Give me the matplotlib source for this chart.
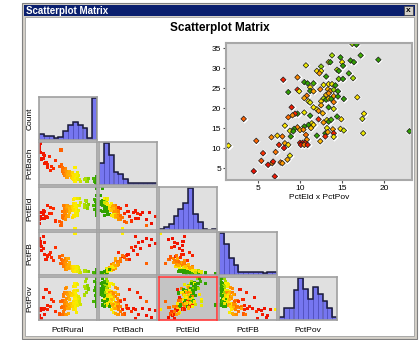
import numpy as np
import matplotlib
matplotlib.use("Agg")
import matplotlib.pyplot as plt
from matplotlib.patches import Rectangle
from matplotlib.colors import LinearSegmentedColormap

plt.rcParams['font.family'] = ['Liberation Sans', 'DejaVu Sans']

# ---- data: one entry per county ----
pct_eld = [16.2, 16.7, 19.3, 17.2, 13.8, 14.8, 13.4, 13.6, 15.0, 16.0,
           16.4, 15.1, 10.7, 12.5, 12.0, 12.5, 12.3, 14.4, 14.6, 15.8,
           13.1, 8.0, 9.7, 14.6, 15.1, 16.3, 10.5, 10.9, 11.6, 12.8,
           13.4, 13.8, 14.2, 11.2, 9.7, 9.9, 8.6, 11.2, 11.6, 12.4,
           13.3, 13.6, 14.0, 14.5, 10.8, 10.5, 13.1, 13.4, 14.0, 14.5,
           15.2, 16.8, 12.8, 13.1, 13.4, 13.7, 11.0, 11.2, 12.5, 14.0,
           12.5, 9.0, 12.0, 12.2, 13.4, 14.0, 11.6, 9.7, 9.4, 9.1,
           8.6, 10.5, 11.2, 12.7, 14.4, 17.6, 17.4, 14.9, 3.3, 13.2,
           13.4, 13.7, 12.2, 12.8, 11.4, 11.6, 11.0, 10.5, 9.7, 9.3,
           8.8, 10.0, 10.4, 11.3, 8.2, 9.2, 13.2, 13.9, 14.8, 15.2,
           13.0, 13.3, 14.0, 14.0, 17.5, 23.0, 10.7, 12.0, 13.0, 10.8,
           12.4, 7.3, 6.6, 7.9, 8.9, 4.8, 1.5, 10.0, 10.3, 10.6,
           10.1, 10.5, 10.9, 7.5, 8.2, 8.6, 8.1, 7.1, 8.8, 5.6,
           5.4, 6.2, 6.7, 6.8, 7.7, 7.9, 8.5, 4.5, 7.0]

pct_pov = [36.1, 35.9, 32.1, 33.2, 33.2, 32.7, 31.5, 31.5, 31.5, 31.9,
           31.5, 30.6, 30.7, 30.4, 29.3, 29.3, 28.7, 29.6, 29.3, 28.7,
           27.9, 27.1, 27.7, 27.3, 27.3, 27.5, 26.5, 26.2, 26.2, 25.8,
           26.0, 26.0, 25.7, 25.2, 24.6, 24.2, 24.0, 24.3, 24.2, 24.7,
           24.7, 24.3, 24.6, 24.2, 23.1, 22.5, 23.3, 23.7, 23.0, 22.9,
           22.3, 22.7, 22.4, 22.1, 22.4, 22.3, 21.7, 21.4, 21.7, 21.5,
           20.7, 20.2, 19.7, 19.3, 20.2, 19.8, 20.2, 18.6, 18.6, 18.2,
           17.7, 18.9, 18.1, 18.7, 17.9, 18.6, 17.3, 17.2, 17.3, 17.0,
           16.6, 17.1, 17.2, 16.4, 16.2, 15.8, 15.8, 15.4, 15.2, 14.8,
           14.3, 14.5, 14.6, 15.0, 15.6, 14.2, 15.0, 14.7, 14.8, 14.4,
           13.7, 14.0, 13.7, 12.8, 13.7, 14.2, 13.3, 13.1, 12.9, 12.1,
           11.7, 13.1, 12.7, 12.9, 12.9, 11.8, 10.6, 11.3, 11.3, 11.3,
           10.8, 10.8, 10.8, 10.8, 11.2, 10.8, 10.0, 9.0, 8.1, 8.7,
           6.8, 5.8, 6.2, 6.6, 6.4, 6.2, 7.1, 4.2, 2.9]

pct_rural = [82, 100, 100, 96, 80, 100, 64, 100, 62, 100,
             100, 100, 66, 84, 60, 63, 48, 78, 100, 97,
             100, 12, 45, 86, 100, 80, 100, 100, 95, 65,
             61, 67, 100, 59, 18, 63, 100, 100, 50, 44,
             52, 47, 82, 100, 42, 50, 54, 46, 49, 100,
             100, 60, 79, 100, 56, 98, 64, 68, 58, 43,
             51, 8, 62, 47, 100, 69, 61, 100, 22, 45,
             40, 66, 100, 53, 100, 62, 70, 60, 38, 65,
             100, 94, 25, 48, 63, 59, 100, 100, 44, 100,
             67, 52, 46, 55, 61, 100, 64, 49, 60, 72,
             100, 50, 15, 63, 66, 100, 41, 100, 20, 47,
             53, 58, 45, 42, 100, 39, 62, 5, 2, 10,
             0, 44, 7, 14, 50, 60, 3, 42, 64, 28,
             36, 1, 46, 9, 41, 48, 51, 0, 4]

pct_bach = [11, 9, 8, 10, 12, 9, 13, 10, 14, 8,
            9, 11, 15, 10, 12, 13, 16, 11, 9, 10,
            10, 24, 17, 12, 8, 11, 9, 10, 11, 12,
            13, 11, 9, 14, 28, 12, 10, 8, 15, 14,
            16, 13, 10, 9, 18, 17, 14, 15, 13, 8,
            9, 12, 11, 10, 13, 9, 13, 14, 12, 16,
            15, 30, 13, 17, 10, 11, 14, 12, 21, 18,
            19, 15, 11, 14, 9, 10, 11, 12, 33, 13,
            10, 12, 19, 16, 14, 13, 11, 12, 18, 13,
            16, 17, 15, 14, 15, 12, 12, 15, 11, 10,
            11, 14, 22, 13, 12, 9, 17, 10, 18, 16,
            15, 16, 19, 17, 13, 22, 20, 26, 31, 23,
            35, 18, 27, 20, 16, 14, 38, 19, 15, 25,
            21, 33, 18, 29, 20, 17, 16, 36, 27]

pct_fb = [1.2, 0.4, 0.6, 0.3, 1.5, 0.5, 2.0, 0.8, 1.6, 0.4,
          0.7, 0.5, 2.4, 1.0, 2.2, 1.8, 3.0, 1.3, 0.6, 0.9,
          0.5, 5.5, 3.4, 1.1, 0.4, 1.4, 0.8, 1.0, 0.6, 1.7,
          1.5, 2.1, 0.5, 2.6, 7.2, 1.9, 1.2, 0.7, 2.8, 3.5,
          2.4, 2.0, 1.1, 0.6, 4.1, 3.8, 2.2, 1.9, 2.6, 0.4,
          0.3, 1.2, 1.3, 0.8, 2.3, 0.5, 2.0, 2.7, 1.6, 2.9,
          3.1, 9.4, 1.8, 3.3, 0.7, 1.4, 2.2, 1.5, 6.3, 4.4,
          4.8, 2.5, 1.1, 2.7, 0.6, 1.0, 0.9, 1.3, 4.0, 1.7,
          0.5, 0.9, 5.0, 2.5, 2.3, 2.0, 1.4, 1.2, 3.6, 1.6,
          2.8, 4.3, 3.9, 3.0, 2.9, 1.3, 1.4, 2.6, 1.1, 0.9,
          0.8, 2.4, 6.8, 1.5, 1.2, 0.4, 4.6, 1.0, 8.1, 5.2,
          3.7, 2.9, 6.0, 4.9, 1.7, 5.6, 15.0, 8.8, 12.1, 7.4,
          10.5, 4.2, 13.8, 6.6, 5.8, 3.1, 11.2, 5.1, 2.7, 9.9,
          6.4, 13.0, 4.5, 11.6, 7.0, 3.8, 3.4, 12.6, 10.2]

# histogram counts on the diagonal (12 bins each)
rural_counts = [6, 4, 4, 2, 3, 10, 16, 19, 16, 13, 2, 45]
bach_counts = [23, 43, 31, 13, 11, 6, 2, 2, 2, 2, 2, 2]
eld_counts = [1, 3, 6, 14, 21, 27, 42, 16, 8, 1, 0, 1]
fb_counts = [48, 36, 19, 12, 4, 3, 3, 3, 3, 2, 3, 3]
pov_counts = [2, 7, 7, 17, 24, 18, 12, 19, 15, 11, 7, 2]

var_names = ['PctRural', 'PctBach', 'PctEld', 'PctFB', 'PctPov']
row_labels = ['Count', 'PctBach', 'PctEld', 'PctFB', 'PctPov']
columns = [pct_rural, pct_bach, pct_eld, pct_fb, pct_pov]
hist_counts = [rural_counts, bach_counts, eld_counts, fb_counts, pov_counts]

cmap = LinearSegmentedColormap.from_list('rural', [
    (0.0, '#ee1000'), (0.3, '#ff3300'), (0.45, '#ff8800'),
    (0.62, '#ffee00'), (0.8, '#aadd00'), (0.95, '#44b400'), (1.0, '#30a000')])
colors = cmap(np.array(pct_rural) / 100.0)

W, H = 420, 340


def box(l, t, w, h):
    return [l / W, 1 - (t + h) / H, w / W, h / H]


def rect(l, t, w, h, **kw):
    r = Rectangle((l / W, 1 - (t + h) / H), w / W, h / H,
                  transform=fig.transFigure, zorder=-10, **kw)
    fig.add_artist(r)


def style(ax, face, edge, lw=1.2):
    ax.set_facecolor(face)
    for s in ax.spines.values():
        s.set_color(edge)
        s.set_linewidth(lw)


fig = plt.figure(figsize=(4.2, 3.4), dpi=100)

# window chrome
rect(22, 3, 395, 336, facecolor='#d4d0c8', edgecolor='#808080', linewidth=0.8)
rect(24, 5, 391, 11, facecolor='#0a1f6e', edgecolor='none')
rect(25, 17, 389, 319, facecolor='white', edgecolor='#a0a0a0', linewidth=0.6)
rect(404, 6, 9, 9, facecolor='#d4d0c8', edgecolor='#404040', linewidth=0.5)
fig.text(26 / W, 1 - 10.5 / H, 'Scatterplot Matrix', color='white',
         fontsize=7, fontweight='bold', ha='left', va='center')
fig.text(408.5 / W, 1 - 10.5 / H, 'x', color='black',
         fontsize=6, fontweight='bold', ha='center', va='center')

fig.text(220 / W, 1 - 28 / H, 'Scatterplot Matrix', fontsize=8.5,
         fontweight='bold', ha='center', va='center')

# axis limits from the data
lims = []
for col in columns:
    lo, hi = min(col), max(col)
    pad = 0.03 * (hi - lo)
    lims.append((lo - pad, hi + pad))
lims[0] = (0, 100)

# matrix cells
for i in range(5):
    for j in range(i + 1):
        ax = fig.add_axes(box(39 + 60 * j, 97 + 45 * i, 58, 43))
        ax.set_xticks([])
        ax.set_yticks([])
        if i == j:
            style(ax, '#e0e0e0', '#a0a0a0')
            edges = np.linspace(lims[j][0], lims[j][1], len(hist_counts[j]) + 1)
            ax.bar(edges[:-1], hist_counts[j], width=np.diff(edges), align='edge',
                   color='#7676f0', edgecolor='#4a4ab8', linewidth=0.5)
            ax.stairs(hist_counts[j], edges, color='#1c1c3c', linewidth=1.1)
            ax.set_xlim(lims[j])
            ax.set_ylim(0, max(hist_counts[j]) * 1.03)
        else:
            if (i, j) == (4, 2):
                style(ax, '#c4c4c4', '#ff3a3a')
            else:
                style(ax, '#e0e0e0', '#a0a0a0')
            ax.scatter(columns[j], columns[i], c=colors, marker='s', s=5,
                       linewidths=0)
            ax.set_xlim(lims[j])
            ax.set_ylim(lims[i])

for i, lab in enumerate(row_labels):
    fig.text(30 / W, 1 - (97 + 45 * i + 21.5) / H, lab, rotation=90,
             fontsize=6, ha='center', va='center')
for j, lab in enumerate(var_names):
    fig.text((39 + 60 * j + 29) / W, 1 - 330.5 / H, lab,
             fontsize=6, ha='center', va='center')

# enlarged PctEld x PctPov plot
big = fig.add_axes(box(226, 43, 186, 137))
style(big, '#e0e0e0', '#a8a8a8', 1.5)
big.scatter(pct_eld, pct_pov, c='white', marker='D', s=18, linewidths=0)
big.scatter(pct_eld, pct_pov, c=colors, marker='D', s=8,
            edgecolors='#202020', linewidths=0.55)
big.set_xlim(1.2, 23.3)
big.set_ylim(2.0, 36.3)
big.set_xticks([5, 10, 15, 20])
big.set_yticks([5, 10, 15, 20, 25, 30, 35])
big.tick_params(labelsize=6, length=2.5, width=0.8, color='#505050', pad=1)
big.set_xlabel('PctEld x PctPov', fontsize=6, labelpad=1.5)

fig.savefig('out.png', dpi=100)
